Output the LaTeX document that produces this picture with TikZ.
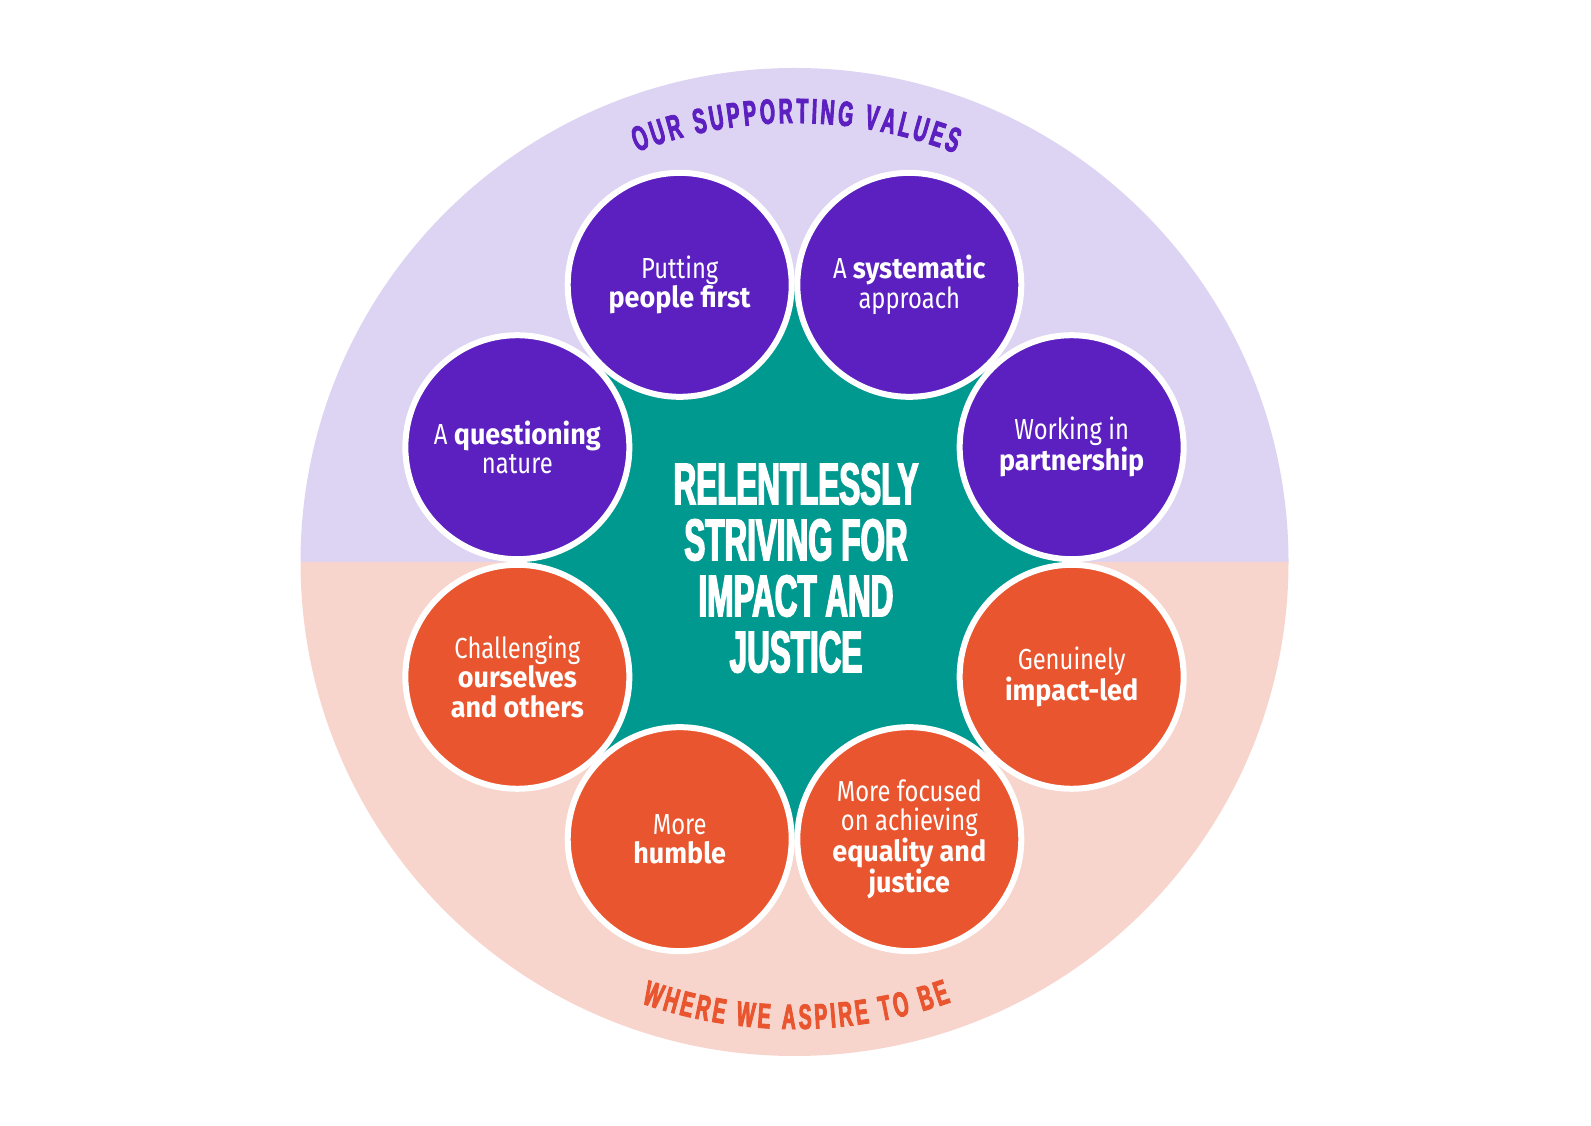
\documentclass[tikz,border=0pt]{standalone}
\usepackage{fontspec}
\usetikzlibrary{calc,decorations.text}
\setmainfont{Fira Sans}[FakeStretch=0.82, BoldFeatures={FakeStretch=0.93}]
\newfontfamily\headfont{Liberation Sans}[FakeStretch=0.535, FakeBold=2.5]
\newfontfamily\arcfont{Liberation Sans}[FakeStretch=0.555, FakeBold=2.5]
\newcommand\arcsty{\arcfont\bfseries\fontsize{35}{35}\selectfont}
\definecolor{bgtop}{HTML}{DDD3F2}
\definecolor{bgbot}{HTML}{F8D5CC}
\definecolor{vpurple}{HTML}{5B20BF}
\definecolor{vorange}{HTML}{E8552F}
\definecolor{vteal}{HTML}{00998F}
\tikzset{
  val/.style={circle, minimum size=224pt, inner sep=0pt, line width=6pt, draw=white,
    text=white, align=center, font=\fontsize{29}{29.5}\selectfont},
  pur/.style={val, fill=vpurple},
  org/.style={val, fill=vorange},
  centre/.style={text=white, align=center, inner sep=0pt,
    font=\headfont\bfseries\fontsize{58.7}{56}\selectfont}
}
\begin{document}
\begin{tikzpicture}[x=1pt,y=1pt]
\useasboundingbox (0,0) rectangle (1591,1125);
\coordinate (C) at (794.5,563);
\fill[bgtop] (C) ++(0:494) arc[start angle=0,end angle=180,radius=494] -- cycle;
\fill[bgbot] (C) ++(180:494) arc[start angle=180,end angle=360,radius=494] -- cycle;
\fill[vteal] (C) circle[radius=277];
\node[pur] (n1) at ([shift={(112.5:300)}]C) {Putting\\\textbf{people first}};
\node[pur] (n2) at ([shift={(67.5:300)}]C) {A \textbf{systematic}\\approach};
\node[pur] (n3) at ([shift={(22.5:300)}]C) {Working in\\\textbf{partnership}};
\node[org] (n4) at ([shift={(-22.5:300)}]C) {Genuinely\\\textbf{impact-led}};
\node[org] (n5) at ([shift={(-67.5:300)}]C) {More focused\\on achieving\\\textbf{equality and}\\\textbf{justice}};
\node[org] (n6) at ([shift={(-112.5:300)}]C) {More\\\textbf{humble}};
\node[org] (n7) at ([shift={(-157.5:300)}]C) {Challenging\\\textbf{ourselves}\\\textbf{and others}};
\node[pur] (n8) at ([shift={(157.5:300)}]C) {A \textbf{questioning}\\nature};
\path[decorate, decoration={text along path, text align=center,
  text={|\arcsty\color{vpurple}\kern3.2pt|OUR SUPPORTING VALUES}}]
  (C) ++(135:439) arc[start angle=135, end angle=45, radius=439];
\path[decorate, decoration={text along path, text align=center,
  text={|\arcsty\color{vorange}\kern3.2pt|WHERE WE ASPIRE TO BE}}]
  (C) ++(225:467) arc[start angle=225, end angle=315, radius=467];
\node[centre] (ct) at (796,557) {RELENTLESSLY\\STRIVING FOR\\IMPACT AND\\JUSTICE};
\end{tikzpicture}
\end{document}
